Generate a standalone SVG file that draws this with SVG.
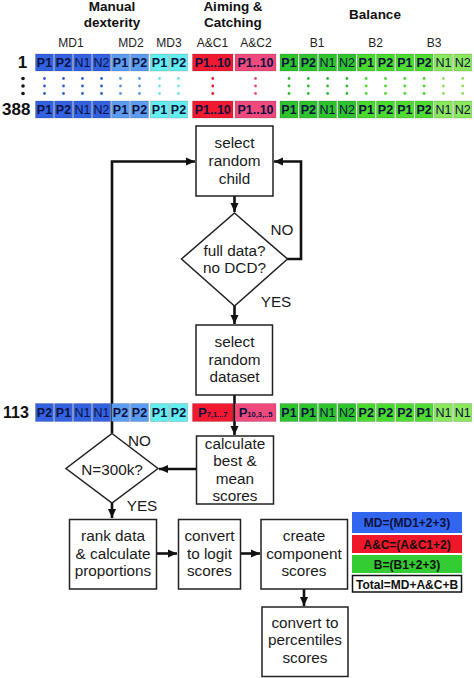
<svg xmlns="http://www.w3.org/2000/svg" width="474" height="678" viewBox="0 0 474 678">
<style>
text{font-family:"Liberation Sans",Arial,sans-serif;fill:#111}
.h{font-weight:bold;font-size:13.5px;text-anchor:middle}
.s{font-size:12px;text-anchor:middle;fill:#222}
.rl{font-weight:bold;font-size:17px}
.c{font-size:12.5px;text-anchor:middle;font-weight:bold;fill:#0d1240}
.n{font-weight:normal}
.cell{stroke:#000;stroke-opacity:0.15;stroke-width:1}
.md1{fill:#3262e2}.md2{fill:#5c9cf0}.md3{fill:#62eeee}.ac1{fill:#f21a30}.ac2{fill:#f04a7c}
.b1{fill:#2ec42e}.b2{fill:#48da2c}.b3p{fill:#4edc30}.b3n{fill:#8ae85c}
.box{fill:#fff;stroke:#222;stroke-width:1.5}
.t{font-size:15.3px;text-anchor:middle;fill:#1a1a1a}
.ln{fill:none;stroke:#111;stroke-width:2.6}
.lg{font-size:12px;font-weight:bold;text-anchor:middle}
</style>
<defs>
<marker id="ah" markerUnits="userSpaceOnUse" markerWidth="10" markerHeight="10" refX="9" refY="4.5" orient="auto">
<path d="M0,0.5 L9,4.5 L0,8.5 Z" fill="#111"/>
</marker>
<g id="dM1"><circle cx="0" cy="78.5" r="1.4"/><circle cx="0" cy="86" r="1.4"/><circle cx="0" cy="93.5" r="1.4"/></g>
</defs>
<rect width="474" height="678" fill="#fff"/>

<!-- headers -->
<g id="headers">
<text class="h" x="112" y="11">Manual</text>
<text class="h" x="112" y="27">dexterity</text>
<text class="h" x="233" y="11">Aiming &amp;</text>
<text class="h" x="233" y="27">Catching</text>
<text class="h" x="375" y="19">Balance</text>
<text class="s" x="71" y="47">MD1</text>
<text class="s" x="131" y="47">MD2</text>
<text class="s" x="169" y="47">MD3</text>
<text class="s" x="212.5" y="47">A&amp;C1</text>
<text class="s" x="256" y="47">A&amp;C2</text>
<text class="s" x="317" y="47">B1</text>
<text class="s" x="375.5" y="47">B2</text>
<text class="s" x="434" y="47">B3</text>
</g>

<!-- connectors (behind cells) -->
<g id="connectors">
<path class="ln" d="M112,433 V161.5 H195" marker-end="url(#ah)"/>
<path class="ln" d="M234.5,196 V212" marker-end="url(#ah)"/>
<path class="ln" d="M287,259 H301 V161.5 H274" marker-end="url(#ah)"/>
<path class="ln" d="M234.5,306 V324" marker-end="url(#ah)"/>
<path class="ln" d="M234.5,395 V435" marker-end="url(#ah)"/>
<path class="ln" d="M197,469 H159" marker-end="url(#ah)"/>
<path class="ln" d="M112,503 V518" marker-end="url(#ah)"/>
<path class="ln" d="M157,553.5 H177" marker-end="url(#ah)"/>
<path class="ln" d="M241,553.5 H260" marker-end="url(#ah)"/>
<path class="ln" d="M304,589 V606" marker-end="url(#ah)"/>
</g>

<!-- row 1 -->
<g id="row1">
<text class="rl" x="22.5" y="68" text-anchor="middle">1</text>
<rect class="cell md1" x="35.5" y="54" width="18" height="17"/>
<rect class="cell md1" x="54.5" y="54" width="18" height="17"/>
<rect class="cell md1" x="73.5" y="54" width="18" height="17"/>
<rect class="cell md1" x="92.5" y="54" width="18" height="17"/>
<rect class="cell md2" x="111.5" y="54" width="18" height="17"/>
<rect class="cell md2" x="130.5" y="54" width="18" height="17"/>
<rect class="cell md3" x="150.5" y="54" width="18" height="17"/>
<rect class="cell md3" x="169.5" y="54" width="18" height="17"/>
<rect class="cell ac1" x="192.5" y="54" width="40.5" height="17"/>
<rect class="cell ac2" x="235" y="54" width="41" height="17"/>
<rect class="cell b1" x="280" y="54" width="18" height="17"/>
<rect class="cell b1" x="299.3" y="54" width="18" height="17"/>
<rect class="cell b1" x="318.6" y="54" width="18" height="17"/>
<rect class="cell b1" x="337.9" y="54" width="18" height="17"/>
<rect class="cell b2" x="357.2" y="54" width="18" height="17"/>
<rect class="cell b2" x="376.5" y="54" width="18" height="17"/>
<rect class="cell b3p" x="395.8" y="54" width="18" height="17"/>
<rect class="cell b3p" x="415.1" y="54" width="18" height="17"/>
<rect class="cell b3n" x="434.4" y="54" width="18" height="17"/>
<rect class="cell b3n" x="453.7" y="54" width="18" height="17"/>
<text class="c" x="44.5" y="67">P1</text><text class="c" x="63.5" y="67">P2</text><text class="c n" x="82.5" y="67">N1</text><text class="c n" x="101.5" y="67">N2</text>
<text class="c" x="120.5" y="67">P1</text><text class="c" x="139.5" y="67">P2</text><text class="c" x="159.5" y="67">P1</text><text class="c" x="178.5" y="67">P2</text>
<text class="c" x="212.75" y="67" fill="#300">P1..10</text><text class="c" x="255.5" y="67">P1..10</text>
<text class="c" x="289" y="67">P1</text><text class="c" x="308.3" y="67">P2</text><text class="c n" x="327.6" y="67">N1</text><text class="c n" x="346.9" y="67">N2</text>
<text class="c" x="366.2" y="67">P1</text><text class="c" x="385.5" y="67">P2</text><text class="c" x="404.8" y="67">P1</text><text class="c" x="424.1" y="67">P2</text>
<text class="c n" x="443.4" y="67">N1</text><text class="c n" x="462.7" y="67">N2</text>
</g>

<!-- dots -->
<g id="dots">
<g fill="#111"><circle cx="23" cy="78.5" r="1.8"/><circle cx="23" cy="86" r="1.8"/><circle cx="23" cy="93.5" r="1.8"/></g>
<g fill="#2f5ed8">
<use href="#dM1" x="44.5"/><use href="#dM1" x="63.5"/><use href="#dM1" x="82.5"/><use href="#dM1" x="101.5"/>
</g>
<g fill="#5a98ec"><use href="#dM1" x="120.5"/><use href="#dM1" x="139.5"/></g>
<g fill="#70e6e6"><use href="#dM1" x="159.5"/><use href="#dM1" x="178.5"/></g>
<g fill="#e81a30"><use href="#dM1" x="212.75"/></g>
<g fill="#e84a7c"><use href="#dM1" x="255.5"/></g>
<g fill="#2ebc2e"><use href="#dM1" x="289"/><use href="#dM1" x="308.3"/><use href="#dM1" x="327.6"/><use href="#dM1" x="346.9"/></g>
<g fill="#4cd430"><use href="#dM1" x="366.2"/><use href="#dM1" x="385.5"/><use href="#dM1" x="404.8"/><use href="#dM1" x="424.1"/></g>
<g fill="#8ee060"><use href="#dM1" x="443.4"/><use href="#dM1" x="462.7"/></g>
</g>

<!-- row 388 -->
<g id="row388">
<text class="rl" x="2" y="115">388</text>
<rect class="cell md1" x="35.5" y="101" width="18" height="17"/>
<rect class="cell md1" x="54.5" y="101" width="18" height="17"/>
<rect class="cell md1" x="73.5" y="101" width="18" height="17"/>
<rect class="cell md1" x="92.5" y="101" width="18" height="17"/>
<rect class="cell md2" x="111.5" y="101" width="18" height="17"/>
<rect class="cell md2" x="130.5" y="101" width="18" height="17"/>
<rect class="cell md3" x="150.5" y="101" width="18" height="17"/>
<rect class="cell md3" x="169.5" y="101" width="18" height="17"/>
<rect class="cell ac1" x="192.5" y="101" width="40.5" height="17"/>
<rect class="cell ac2" x="235" y="101" width="41" height="17"/>
<rect class="cell b1" x="280" y="101" width="18" height="17"/>
<rect class="cell b1" x="299.3" y="101" width="18" height="17"/>
<rect class="cell b1" x="318.6" y="101" width="18" height="17"/>
<rect class="cell b1" x="337.9" y="101" width="18" height="17"/>
<rect class="cell b2" x="357.2" y="101" width="18" height="17"/>
<rect class="cell b2" x="376.5" y="101" width="18" height="17"/>
<rect class="cell b3p" x="395.8" y="101" width="18" height="17"/>
<rect class="cell b3p" x="415.1" y="101" width="18" height="17"/>
<rect class="cell b3n" x="434.4" y="101" width="18" height="17"/>
<rect class="cell b3n" x="453.7" y="101" width="18" height="17"/>
<text class="c" x="44.5" y="114">P1</text><text class="c" x="63.5" y="114">P2</text><text class="c n" x="82.5" y="114">N1</text><text class="c n" x="101.5" y="114">N2</text>
<text class="c" x="120.5" y="114">P1</text><text class="c" x="139.5" y="114">P2</text><text class="c" x="159.5" y="114">P1</text><text class="c" x="178.5" y="114">P2</text>
<text class="c" x="212.75" y="114">P1..10</text><text class="c" x="255.5" y="114">P1..10</text>
<text class="c" x="289" y="114">P1</text><text class="c" x="308.3" y="114">P2</text><text class="c n" x="327.6" y="114">N1</text><text class="c n" x="346.9" y="114">N2</text>
<text class="c" x="366.2" y="114">P1</text><text class="c" x="385.5" y="114">P2</text><text class="c" x="404.8" y="114">P1</text><text class="c" x="424.1" y="114">P2</text>
<text class="c n" x="443.4" y="114">N1</text><text class="c n" x="462.7" y="114">N2</text>
</g>

<!-- row 113 -->
<g id="row113">
<text class="rl" x="3" y="418" style="font-size:16px">113</text>
<rect class="cell md1" x="35.5" y="403.5" width="18" height="18"/>
<rect class="cell md1" x="54.5" y="403.5" width="18" height="18"/>
<rect class="cell md1" x="73.5" y="403.5" width="18" height="18"/>
<rect class="cell md1" x="92.5" y="403.5" width="18" height="18"/>
<rect class="cell md2" x="111.5" y="403.5" width="18" height="18"/>
<rect class="cell md2" x="130.5" y="403.5" width="18" height="18"/>
<rect class="cell md3" x="150.5" y="403.5" width="18" height="18"/>
<rect class="cell md3" x="169.5" y="403.5" width="18" height="18"/>
<rect class="cell ac1" x="192.5" y="403.5" width="40.5" height="18"/>
<rect class="cell ac2" x="235" y="403.5" width="41" height="18"/>
<rect class="cell b1" x="280" y="403.5" width="18" height="18"/>
<rect class="cell b1" x="299.3" y="403.5" width="18" height="18"/>
<rect class="cell b1" x="318.6" y="403.5" width="18" height="18"/>
<rect class="cell b1" x="337.9" y="403.5" width="18" height="18"/>
<rect class="cell b2" x="357.2" y="403.5" width="18" height="18"/>
<rect class="cell b2" x="376.5" y="403.5" width="18" height="18"/>
<rect class="cell b3p" x="395.8" y="403.5" width="18" height="18"/>
<rect class="cell b3p" x="415.1" y="403.5" width="18" height="18"/>
<rect class="cell b3n" x="434.4" y="403.5" width="18" height="18"/>
<rect class="cell b3n" x="453.7" y="403.5" width="18" height="18"/>
<text class="c" x="44.5" y="417">P2</text><text class="c" x="63.5" y="417">P1</text><text class="c n" x="82.5" y="417">N1</text><text class="c n" x="101.5" y="417">N1</text>
<text class="c" x="120.5" y="417">P2</text><text class="c" x="139.5" y="417">P2</text><text class="c" x="159.5" y="417">P1</text><text class="c" x="178.5" y="417">P2</text>
<text class="c" x="212.75" y="417" style="font-size:13px">P<tspan style="font-size:7.5px">7,1...7</tspan></text>
<text class="c" x="255.5" y="417" style="font-size:13px">P<tspan style="font-size:7.5px">10,3,..5</tspan></text>
<text class="c" x="289" y="417">P1</text><text class="c" x="308.3" y="417">P1</text><text class="c n" x="327.6" y="417">N1</text><text class="c n" x="346.9" y="417">N2</text>
<text class="c" x="366.2" y="417">P2</text><text class="c" x="385.5" y="417">P2</text><text class="c" x="404.8" y="417">P2</text><text class="c" x="424.1" y="417">P1</text>
<text class="c n" x="443.4" y="417">N1</text><text class="c n" x="462.7" y="417">N1</text>
</g>

<!-- flowchart nodes -->
<g id="selectChild">
<rect class="box" x="196" y="126" width="77" height="70"/>
<text class="t" x="234.5" y="148">select</text>
<text class="t" x="234.5" y="166">random</text>
<text class="t" x="234.5" y="183.5">child</text>
</g>
<g id="fullData">
<polygon class="box" points="234.5,213 287.5,259 234.5,306 181.5,259"/>
<text class="t" x="234.5" y="256">full data?</text>
<text class="t" x="234.5" y="273">no DCD?</text>
</g>
<g id="labels1">
<text class="t" x="282" y="235">NO</text>
<text class="t" x="276" y="307">YES</text>
</g>
<g id="selectDataset">
<rect class="box" x="196" y="325" width="76.5" height="70"/>
<text class="t" x="234.5" y="346.5">select</text>
<text class="t" x="234.5" y="364.5">random</text>
<text class="t" x="234.5" y="382">dataset</text>
</g>
<g id="calculate">
<rect class="box" x="196.5" y="436" width="77" height="68"/>
<text class="t" x="235" y="449">calculate</text>
<text class="t" x="235" y="466">best &amp;</text>
<text class="t" x="235" y="483.5">mean</text>
<text class="t" x="235" y="500.5">scores</text>
</g>
<g id="n300k">
<polygon class="box" points="112,433.5 158,468.5 112,503 66,468.5"/>
<text class="t" x="112" y="475">N=300k?</text>
<text class="t" x="139.5" y="445.5">NO</text>
<text class="t" x="142" y="510.5">YES</text>
</g>
<g id="rank">
<rect class="box" x="69.5" y="519.5" width="87" height="69.5"/>
<text class="t" x="113" y="541">rank data</text>
<text class="t" x="113" y="558.5">&amp; calculate</text>
<text class="t" x="113" y="575.5">proportions</text>
</g>
<g id="logit">
<rect class="box" x="178.5" y="519.5" width="62" height="69.5"/>
<text class="t" x="209.5" y="541">convert</text>
<text class="t" x="209.5" y="558.5">to logit</text>
<text class="t" x="209.5" y="575.5">scores</text>
</g>
<g id="component">
<rect class="box" x="261" y="519.5" width="86.5" height="69.5"/>
<text class="t" x="304" y="541">create</text>
<text class="t" x="304" y="558.5">component</text>
<text class="t" x="304" y="575.5">scores</text>
</g>
<g id="percentiles">
<rect class="box" x="262" y="607" width="86" height="69.5"/>
<text class="t" x="305" y="627.5">convert to</text>
<text class="t" x="305" y="645">percentiles</text>
<text class="t" x="305" y="663">scores</text>
</g>

<!-- legend -->
<g id="legend">
<rect x="352" y="512" width="110" height="21" fill="#3366ee"/>
<text class="lg" x="407" y="527" style="fill:#0d1240">MD=(MD1+2+3)</text>
<rect x="352" y="535" width="110" height="18" fill="#f0172a"/>
<text class="lg" x="407" y="548.5">A&amp;C=(A&amp;C1+2)</text>
<rect x="352" y="555" width="110" height="18" fill="#33cc33"/>
<text class="lg" x="407" y="568.5">B=(B1+2+3)</text>
<rect x="352.5" y="575.5" width="109" height="16.5" fill="#fff" stroke="#111" stroke-width="1.5"/>
<text class="lg" x="407" y="588.5">Total=MD+A&amp;C+B</text>
</g>
</svg>
